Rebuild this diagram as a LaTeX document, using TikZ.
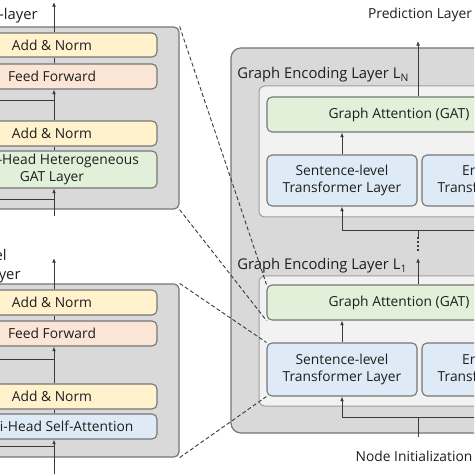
\documentclass[tikz,border=0pt]{standalone}
\usepackage{fontspec}
\setmainfont{Open Sans}
\usetikzlibrary{arrows.meta}
\definecolor{panelgray}{HTML}{D9D9D9}
\definecolor{innergray}{HTML}{F2F2F2}
\definecolor{bordergray}{HTML}{767676}
\definecolor{linecol}{HTML}{3A3A3A}
\definecolor{textcol}{HTML}{1E1E1E}
\definecolor{yellowfill}{HTML}{FFF2CC}
\definecolor{pinkfill}{HTML}{FBE5D6}
\definecolor{greenfill}{HTML}{E2F0D9}
\definecolor{bluefill}{HTML}{DEEBF7}
\tikzset{
  panel/.style={draw=bordergray, fill=panelgray, rounded corners=2.5pt, line width=0.6pt},
  bigpanel/.style={draw=bordergray, fill=panelgray, rounded corners=5pt, line width=0.6pt},
  innerbox/.style={draw=bordergray!70, fill=innergray, rounded corners=3pt, line width=0.5pt},
  box/.style={draw=bordergray, rounded corners=2.5pt, line width=0.55pt, text=textcol,
    font=\fontsize{6.9}{8.4}\selectfont, align=center, inner sep=0pt},
  lbl/.style={text=textcol, font=\fontsize{6.9}{8.4}\selectfont, inner sep=0pt},
  ttl/.style={text=textcol, font=\fontsize{7.4}{9}\selectfont, inner sep=0pt},
  arr/.style={-{Latex[length=2.3pt,width=1.9pt]}, line width=0.5pt, draw=linecol},
  plain/.style={line width=0.5pt, draw=linecol},
  zoomline/.style={dash pattern=on 2pt off 1.2pt, line width=0.45pt, draw=linecol}
}
\begin{document}
\begin{tikzpicture}[x=0.5pt,y=-0.5pt]
\useasboundingbox (0,0) rectangle (474,474);
\begin{scope}
\clip (0,0) rectangle (474,474);

% ---------- top-left panel (heterogeneous GAT layer) ----------
\node[panel, minimum width=119.5pt, minimum height=91pt] (tp) at (59.5,118) {};
\node[box, fill=yellowfill, minimum width=105pt, minimum height=12pt] (tan1) at (52,45) {Add \& Norm};
\node[box, fill=pinkfill, minimum width=105pt, minimum height=12.5pt] (tff) at (52,76.5) {Feed Forward};
\node[box, fill=yellowfill, minimum width=105pt, minimum height=12.5pt] (tan2) at (52,133.5) {Add \& Norm};
\node[box, fill=greenfill, minimum width=105pt, minimum height=18.5pt] (tgat) at (52,169.5) {Multi-Head Heterogeneous\\GAT Layer};
\node[ttl, anchor=east] (ttitle) at (38,16) {Graph Attention-layer};
\coordinate (ttop) at (54,2);
\coordinate (tbot) at (54,216);
\coordinate (tres1) at (-10,101);
\coordinate (tres2) at (-10,200);
\draw[arr] (tan1.north -| ttop) -- (ttop);
\draw[plain] (tff.north -| ttop) -- (tan1.south -| ttop);
\draw[arr] (tan2.north -| ttop) -- (tff.south -| ttop);
\draw[plain] (tgat.north -| ttop) -- (tan2.south -| ttop);
\draw[arr] (tbot) -- (tgat.south -| tbot);
\draw[plain] (tres1) -- (tres1 -| ttop);
\draw[plain] (tres2) -- (tres2 -| ttop);

% ---------- bottom-left panel (transformer layer) ----------
\node[panel, minimum width=119.5pt, minimum height=86.5pt] (bp) at (59.5,370.5) {};
\node[box, fill=yellowfill, minimum width=105pt, minimum height=12.5pt] (ban1) at (52,302.5) {Add \& Norm};
\node[box, fill=pinkfill, minimum width=105pt, minimum height=12.5pt] (bff) at (52,333.5) {Feed Forward};
\node[box, fill=yellowfill, minimum width=105pt, minimum height=12.5pt] (ban2) at (52,396.5) {Add \& Norm};
\node[box, fill=bluefill, minimum width=105pt, minimum height=12.5pt] (bmh) at (52,426.5) {Multi-Head Self-Attention};
\node[ttl, align=center, anchor=north east, font=\fontsize{7.4}{9.5}\selectfont] (btitle) at (21,249) {Sentence-level\\Transformer Layer};
\coordinate (btop) at (54,258);
\coordinate (bbot) at (54,476);
\coordinate (bres1) at (-10,359);
\coordinate (bres2) at (-10,446);
\draw[arr] (ban1.north -| btop) -- (btop);
\draw[plain] (bff.north -| btop) -- (ban1.south -| btop);
\draw[arr] (ban2.north -| btop) -- (bff.south -| btop);
\draw[plain] (bmh.north -| btop) -- (ban2.south -| btop);
\draw[arr] (bbot) -- (bmh.south -| bbot);
\draw[plain] (bres1) -- (bres1 -| btop);
\draw[plain] (bres2) -- (bres2 -| btop);

% ---------- right panel ----------
\node[bigpanel, minimum width=164.5pt, minimum height=192.5pt] (rp) at (395.5,240.5) {};
\node[ttl, anchor=west] (tN) at (237,75) {Graph Encoding Layer L\textsubscript{N}};
\node[innerbox, minimum width=150.5pt, minimum height=65.5pt] (inN) at (409.5,151.5) {};
\node[box, fill=greenfill, minimum width=132pt, minimum height=17.5pt] (gatN) at (399,114.5) {Graph Attention (GAT)};
\node[box, fill=bluefill, minimum width=75pt, minimum height=25.5pt] (senN) at (342,180.5) {Sentence-level\\Transformer Layer};
\node[box, fill=bluefill, minimum width=75pt, minimum height=25.5pt] (entN) at (497,180.5) {Entity-level\\Transformer Layer};

\node[ttl, anchor=west] (t1) at (237,266) {Graph Encoding Layer L\textsubscript{1}};
\node[innerbox, minimum width=150.5pt, minimum height=65pt] (in1) at (409.5,341) {};
\node[box, fill=greenfill, minimum width=132pt, minimum height=17.5pt] (gat1) at (399,302.5) {Graph Attention (GAT)};
\node[box, fill=bluefill, minimum width=75pt, minimum height=26.5pt] (sen1) at (342,369.5) {Sentence-level\\Transformer Layer};
\node[box, fill=bluefill, minimum width=75pt, minimum height=26.5pt] (ent1) at (497,369.5) {Entity-level\\Transformer Layer};

\node[lbl] (pred) at (420,15) {Prediction Layer};
\node[lbl] (init) at (414,456) {Node Initialization};

% connectors in the right panel
\coordinate (predin) at (418,41);
\coordinate (busN) at (418,231);
\coordinate (dotsA) at (418,237);
\coordinate (dotsB) at (418,252);
\coordinate (arrTop) at (418,258);
\coordinate (bus1) at (418,417);
\coordinate (initTop) at (418,437);
\draw[arr] (gatN.north -| predin) -- (predin);
\draw[arr] (senN.north) -- (senN.north |- gatN.south);
\draw[arr] (sen1.north) -- (sen1.north |- gat1.south);
\draw[plain] (busN -| senN.south) -- (busN -| entN.south);
\draw[arr] (busN -| senN.south) -- (senN.south);
\draw[arr] (busN -| entN.south) -- (entN.south);
\draw[plain] (busN) -- (dotsA);
\draw[line width=0.6pt, draw=linecol, dash pattern=on 0.9pt off 1.1pt] (dotsA) -- (dotsB);
\draw[arr] (gat1.north -| arrTop) -- (arrTop);
\draw[plain] (bus1 -| sen1.south) -- (bus1 -| ent1.south);
\draw[arr] (bus1 -| sen1.south) -- (sen1.south);
\draw[arr] (bus1 -| ent1.south) -- (ent1.south);
\draw[plain] (initTop) -- (bus1);

% zoom (dashed) lines
\draw[zoomline] (tp.north east) -- (gat1.north west);
\draw[zoomline] (tp.south east) -- (gat1.south west);
\draw[zoomline] (bp.north east) -- (sen1.north west);
\draw[zoomline] (bp.south east) -- (sen1.south west);
\end{scope}
\end{tikzpicture}
\end{document}
